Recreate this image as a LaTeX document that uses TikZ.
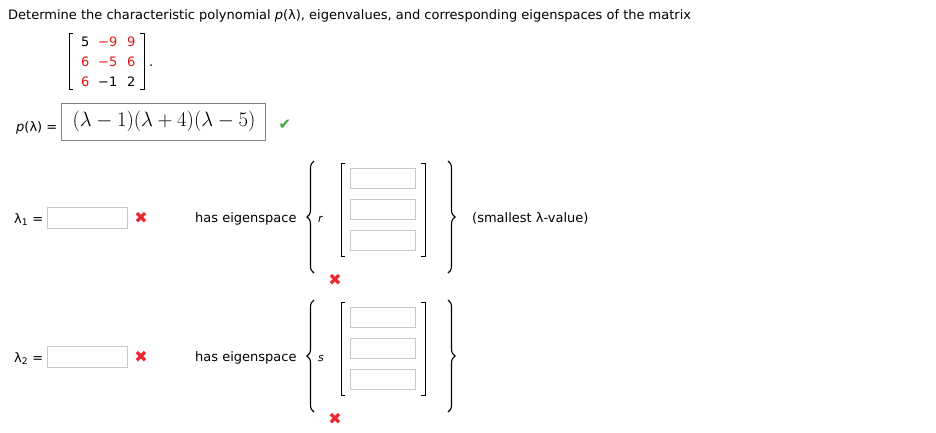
\documentclass[tikz,border=0pt]{standalone}
\usepackage{fontspec}
\setmainfont{DejaVu Sans}
\newfontfamily\lmr{Latin Modern Roman}
\newfontfamily\symf{DejaVu Sans}
\usetikzlibrary{decorations.pathreplacing}
\definecolor{wrong}{RGB}{235,40,50}
\definecolor{okgreen}{RGB}{60,170,60}
\definecolor{redtxt}{RGB}{230,20,20}
\definecolor{boxgray}{RGB}{200,200,200}
\tikzset{
 txt/.style={inner sep=0pt,anchor=base west,font=\fontsize{13}{15}\selectfont},
 inbox/.style={draw=boxgray,line width=0.8pt,minimum width=65pt,minimum height=20pt,inner sep=0pt},
 ansbox/.style={draw=boxgray,line width=0.8pt,minimum width=80pt,minimum height=21pt,inner sep=0pt},
 xmark/.style={font=\fontsize{16}{16}\selectfont\bfseries,text=wrong,inner sep=0pt},
 brk/.style={line width=1pt},
 cbrace/.style={decorate,decoration={brace,amplitude=7pt},line width=1.1pt}
}
\begin{document}
\begin{tikzpicture}[x=1pt,y=-1pt]
\useasboundingbox (0,0) rectangle (936,432);
\fill[white] (0,0) rectangle (936,432);
\node[txt] (title) at (8,19) {Determine the characteristic polynomial \textit{p}(λ), eigenvalues, and corresponding eigenspaces of the matrix};
% matrix
\draw[brk] (73,33) -- (69,33) -- (69,89) -- (73,89);
\draw[brk] (140,33) -- (144,33) -- (144,89) -- (140,89);
\node[txt] (a11) at (81,46) {5};
\node[txt,text=redtxt] (a12) at (98,46) {−9};
\node[txt,text=redtxt] (a13) at (127,46) {9};
\node[txt,text=redtxt] (a21) at (81,66) {6};
\node[txt,text=redtxt] (a22) at (98,66) {−5};
\node[txt,text=redtxt] (a23) at (127,66) {6};
\node[txt,text=redtxt] (a31) at (81,86) {6};
\node[txt] (a32) at (98,86) {−1};
\node[txt] (a33) at (127,86) {2};
\node[txt] (dot) at (149,66) {.};
% p(lambda)
\node[txt] (plab) at (16,131) {\textit{p}(λ) =};
\node[draw=gray,line width=0.8pt,minimum width=204pt,minimum height=37pt,inner sep=0pt] (pbox) at (163,121.5) {};
\node[inner sep=0pt,font=\lmr\fontsize{20.3}{22}\selectfont] (poly) at (164,121) {$(\lambda-1)(\lambda+4)(\lambda-5)$};
\node[inner sep=0pt,text=okgreen,font=\symf\fontsize{15}{15}\selectfont] (chk) at (285,125) {✔};
\foreach \i/\y/\v in {1/218/r, 2/357/s}{
 \node[txt] (l\i) at (14,\y+5) {λ\textsubscript{\i} =};
 \node[ansbox] (a\i) at (87,\y) {};
 \node[xmark] (x\i) at (141,\y) {✖};
 \node[txt] (h\i) at (195,\y+4.5) {has eigenspace};
 \draw[cbrace] (314,\y+55) -- (314,\y-57);
 \node[txt,font=\fontsize{11}{13}\selectfont\itshape] (v\i) at (318,\y+4) {\v};
 \draw[brk] (345,\y-55) -- (341,\y-55) -- (341,\y+38) -- (345,\y+38);
 \draw[brk] (421,\y-55) -- (425,\y-55) -- (425,\y+38) -- (421,\y+38);
 \node[inbox] (b\i a) at (383,\y-40) {};
 \node[inbox] (b\i b) at (383,\y-9) {};
 \node[inbox] (b\i c) at (383,\y+22) {};
 \draw[cbrace] (448,\y-57) -- (448,\y+55);
 \node[xmark] (y\i) at (335,\y+62) {✖};
}
\node[txt] (small) at (472,222) {(smallest λ-value)};
\end{tikzpicture}
\end{document}
